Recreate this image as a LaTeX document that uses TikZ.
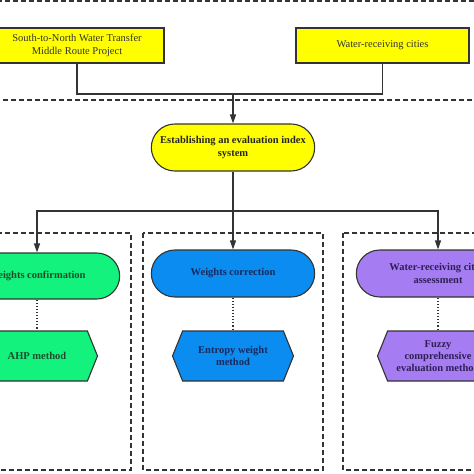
\documentclass[tikz,border=0pt]{standalone}
\usepackage{fontspec}
\setmainfont{Liberation Serif}
\usetikzlibrary{shapes.misc,shapes.symbols,arrows.meta}
\definecolor{boxyellow}{HTML}{FFFF00}
\definecolor{boxgreen}{HTML}{12F27C}
\definecolor{boxblue}{HTML}{0A8CF0}
\definecolor{boxpurple}{HTML}{A67CF2}
\definecolor{txtgreen}{HTML}{1E4A2E}
\definecolor{txtblue}{HTML}{172A5E}
\definecolor{txtpurple}{HTML}{2E1F55}
\definecolor{linegray}{HTML}{333333}
\tikzset{
	every node/.style={font=\fontsize{10.5}{12.5}\selectfont, align=center, draw=linegray, line width=1.1pt},
	plainbox/.style={rectangle, fill=boxyellow, minimum height=35pt, text=black!80},
	stadium/.style={rounded rectangle, minimum height=47pt, minimum width=170pt, font=\fontsize{10.5}{12.5}\selectfont\bfseries},
	methodbox/.style={signal, signal to=east and west, signal pointer angle=136, minimum height=50pt, minimum width=121pt, inner xsep=1pt, font=\fontsize{10.5}{12}\selectfont\bfseries},
	frame/.style={draw=linegray, line width=1.2pt, dash pattern=on 5pt off 3pt},
	link/.style={draw=linegray, line width=1.1pt},
	arrow/.style={link, -{Triangle[length=9pt,width=6pt]}}
}
\begin{document}
\begin{tikzpicture}[x=1pt,y=-1pt]
				\useasboundingbox (0,0) rectangle (474,474);
				\clip (0,0) rectangle (474,474);
				\draw [frame] (-10,1) rectangle (485,100);
				\draw [frame] (-10,233) rectangle (131,470);
				\draw [frame] (143,233) rectangle (323,470);
				\draw [frame] (343,233) rectangle (485,470);
				\node [plainbox, minimum width=174pt] (proj) at (77,45.5) {South-to-North Water Transfer\\Middle Route Project};
				\node [plainbox, minimum width=173pt] (cities) at (382.5,45.5) {Water-receiving cities};
				\node [stadium, fill=boxyellow, text=black!85] (index) at (233,147.5) {Establishing an evaluation index\\system};
				\node [stadium, fill=boxgreen, text=txtgreen, minimum width=172pt, minimum height=46pt] (conf) at (37,276) {Weights confirmation};
				\node [stadium, fill=boxblue, text=txtblue] (corr) at (233,273.5) {Weights correction};
				\node [stadium, fill=boxpurple, text=txtpurple] (assess) at (438,273.5) {Water-receiving cities\\assessment};
				\node [methodbox, fill=boxgreen, text=txtgreen] (ahp) at (37,356) {AHP method};
				\node [methodbox, fill=boxblue, text=txtblue] (entropy) at (233,356) {Entropy weight\\method};
				\node [methodbox, fill=boxpurple, text=txtpurple] (fuzzy) at (438,356) {Fuzzy\\comprehensive\\evaluation method};
				\coordinate (merge) at (233,94);
				\coordinate (split) at (233,211);
				\draw [link] (proj.south) |- (merge) -| (cities.south);
				\draw [arrow] (merge) -- (index.north);
				\draw [link] (index.south) -- (split);
				\draw [arrow] (split) -| (conf.north);
				\draw [arrow] (split) -- (corr.north);
				\draw [arrow] (split) -| (assess.north);
				\draw [link, dotted] (conf.south) -- (ahp.north);
				\draw [link, dotted] (corr.south) -- (entropy.north);
				\draw [link, dotted] (assess.south) -- (fuzzy.north);
\end{tikzpicture}
\end{document}
